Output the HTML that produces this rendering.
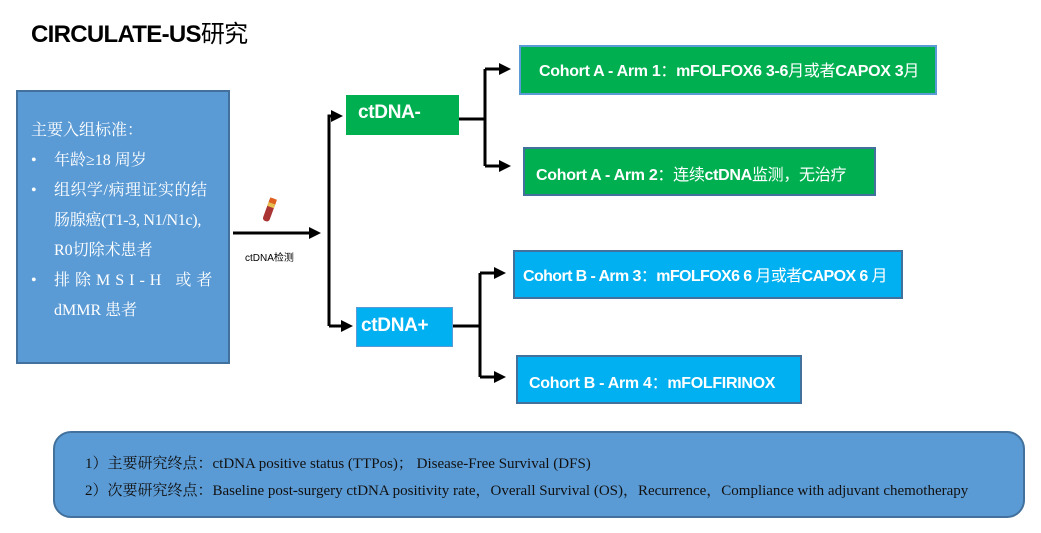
<!DOCTYPE html>
<html><head><meta charset="utf-8"><style>
body{margin:0;width:1041px;height:533px;background:#fff;position:relative;overflow:hidden;font-family:"Liberation Sans","Noto Sans CJK SC",sans-serif}
.a{position:absolute;box-sizing:border-box}
.t{color:#fff;font-weight:bold;white-space:nowrap;letter-spacing:-0.3px}
.t b{font-weight:normal}
.l{position:absolute;left:13px;white-space:nowrap}
</style></head><body>
<div class="a" style="left:31px;top:14px;font-size:24px;font-weight:bold;letter-spacing:-0.7px;color:#000">CIRCULATE-US<span style="font-weight:normal">研究</span></div>

<div class="a" style="left:16px;top:90px;width:214px;height:274px;background:#5b9bd5;border:2px solid #41719c;color:#fff;font-family:'Liberation Serif','Noto Serif CJK SC',serif;font-size:16px;line-height:30px">
<div class="l" style="top:24px">主要入组标准：</div>
<div class="l" style="top:54px">•</div><div class="l" style="top:54px;left:36px">年龄≥18 周岁</div>
<div class="l" style="top:84px">•</div><div class="l" style="top:84px;left:36px;letter-spacing:0.5px">组织学/病理证实的结</div>
<div class="l" style="top:114px;left:36px;letter-spacing:-0.3px">肠腺癌(T1-3, N1/N1c),</div>
<div class="l" style="top:144px;left:36px">R0切除术患者</div>
<div class="l" style="top:174px">•</div><div class="l" style="top:174px;left:36px;letter-spacing:5px">排除MSI-H&nbsp;或者</div>
<div class="l" style="top:204px;left:36px">dMMR 患者</div>
</div>

<svg class="a" style="left:0;top:0" width="1041" height="533">
<defs><marker id="m" markerWidth="4" markerHeight="4" refX="3" refY="2" orient="auto" markerUnits="strokeWidth"><path d="M0,0 L4,2 L0,4z" fill="#000"/></marker></defs>
<g stroke="#000" stroke-width="3" fill="none">
<line x1="233" y1="233" x2="318" y2="233" marker-end="url(#m)"/>
<polyline points="329,326 329,116 340,116" marker-end="url(#m)"/>
<line x1="329" y1="326" x2="350" y2="326" marker-end="url(#m)"/>
<line x1="458" y1="119" x2="485" y2="119"/>
<polyline points="485,69 485,166"/>
<line x1="485" y1="69" x2="508" y2="69" marker-end="url(#m)"/>
<line x1="485" y1="166" x2="508" y2="166" marker-end="url(#m)"/>
<line x1="452" y1="326" x2="480" y2="326"/>
<polyline points="480,273 480,377"/>
<line x1="480" y1="273" x2="503" y2="273" marker-end="url(#m)"/>
<line x1="480" y1="377" x2="503" y2="377" marker-end="url(#m)"/>
</g>
<g transform="rotate(20 270 210)"><rect x="266" y="198" width="7" height="24" rx="3" fill="#a33"/><rect x="266" y="198" width="7" height="5" fill="#e06020"/><rect x="266" y="203" width="7" height="4" fill="#e8c050"/></g>
</svg>
<div class="a" style="left:245px;top:249px;font-size:10px;color:#000">ctDNA检测</div>

<div class="a t" style="left:346px;top:95px;width:113px;height:40px;background:#00b050;font-size:19px;padding:7px 0 0 12px">ctDNA-</div>
<div class="a t" style="left:356px;top:307px;width:97px;height:40px;background:#00b0f0;border:1px solid #5b9bd5;font-size:19px;padding:7px 0 0 4px">ctDNA+</div>

<div class="a t" style="left:519px;top:45px;width:418px;height:50px;background:#00b050;border:2px solid #5b9bd5;font-size:16px;padding:10px 0 0 18px">Cohort A - Arm 1<b>：</b>mFOLFOX6 3-6<b>月或者</b>CAPOX 3<b>月</b></div>
<div class="a t" style="left:523px;top:147px;width:353px;height:49px;background:#00b050;border:2px solid #41719c;font-size:16px;padding:12px 0 0 11px">Cohort A - Arm 2<b>：连续</b>ctDNA<b>监测，无治疗</b></div>
<div class="a t" style="left:513px;top:250px;width:390px;height:49px;background:#00b0f0;border:2px solid #41719c;font-size:16px;padding:10px 0 0 8px;letter-spacing:-0.6px">Cohort B - Arm 3<b>：</b>mFOLFOX6 6 <b>月或者</b>CAPOX 6 <b>月</b></div>
<div class="a t" style="left:516px;top:355px;width:286px;height:49px;background:#00b0f0;border:2px solid #41719c;font-size:16px;padding:12px 0 0 11px">Cohort B - Arm 4<b>：</b>mFOLFIRINOX</div>

<div class="a" style="left:53px;top:431px;width:972px;height:87px;background:#5b9bd5;border:2px solid #41719c;border-radius:18px;font-family:'Liberation Serif','Noto Serif CJK SC',serif;font-size:15px;color:#111;line-height:27px;padding:18px 0 0 30px;white-space:nowrap">
<div>1）主要研究终点：ctDNA positive status (TTPos)； Disease-Free Survival (DFS)</div>
<div>2）次要研究终点：Baseline post-surgery ctDNA positivity rate，Overall Survival (OS)，Recurrence，Compliance with adjuvant chemotherapy</div>
</div>
</body></html>
